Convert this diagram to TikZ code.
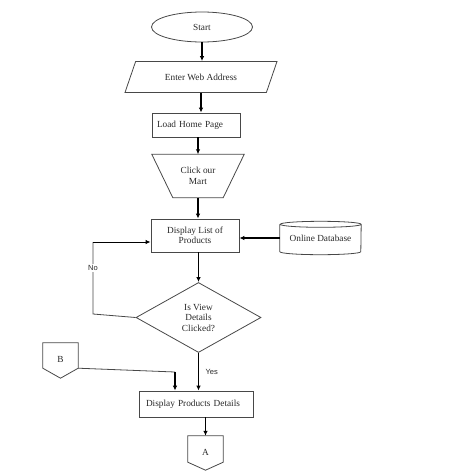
\documentclass[tikz,border=0pt]{standalone}
\usepackage{fontspec}
\setmainfont{Liberation Serif}
\newfontfamily\labelfont{Liberation Sans}
\usetikzlibrary{shapes.geometric,arrows.meta}

\definecolor{outline}{HTML}{484848}
\definecolor{ink}{HTML}{282828}

\tikzset{
  box/.style={draw=outline, line width=0.8pt, text=ink, font=\fontsize{9.3}{10.5}\selectfont},
  plain/.style={text=ink, font=\fontsize{9.3}{10.5}\selectfont},
  flow/.style={line width=1.4pt, black, -{Latex[length=5pt,width=4.5pt]}},
  thinline/.style={line width=0.8pt, outline},
  yesno/.style={text=ink, font=\labelfont\fontsize{7.5}{8}\selectfont}
}

\begin{document}
\begin{tikzpicture}[x=1pt,y=-1pt]
  \useasboundingbox (0,0) rectangle (474,474);
  % vormen
  \node (start) [box, ellipse, minimum width=101pt, minimum height=30pt, inner sep=0pt] at (202,27) {Start};
  \node (enter) [box, trapezium, trapezium left angle=39, trapezium right angle=141,
    trapezium stretches body, minimum width=152pt, minimum height=31pt, inner sep=1pt] at (201,77) {Enter Web Address};
  \node (load) [box, rectangle, minimum width=88pt, minimum height=24pt, text width=78pt, align=left, inner sep=4pt] at (196,125) {Load Home Page};
  \node (click) [plain, minimum width=92pt, minimum height=43pt, align=center, inner sep=1pt] at (198,176) {Click our\\Mart};
  \draw [thinline] (click.north west) -- (click.north east) -- ([xshift=-21pt]click.south east)
    -- ([xshift=21pt]click.south west) -- cycle;
  \node (list) [box, rectangle, minimum width=88pt, minimum height=33pt, align=center, inner sep=1pt] at (195,235.5) {Display List of\\Products};
  \node (db) [plain, minimum width=81pt, minimum height=33pt, inner sep=1pt] at (320.5,238) {Online Database};
  \draw [thinline] ([yshift=-3pt]db.north west) -- ([yshift=3pt]db.south west)
    arc [start angle=180, end angle=360, x radius=40.5pt, y radius=3pt]
    -- ([yshift=-3pt]db.north east)
    arc [start angle=0, end angle=360, x radius=40.5pt, y radius=3pt];
  \node (check) [box, diamond, minimum width=125pt, minimum height=70pt, align=center, inner sep=0pt] at (198.5,317.5) {Is View\\Details\\Clicked?};
  \node (detail) [box, rectangle, minimum width=114pt, minimum height=26pt, text width=100pt, align=left, inner sep=4pt] at (196,404) {Display Products Details};

  % tengipunktar
  \node (B) [plain, minimum width=35pt, minimum height=35pt, inner sep=0pt] at (60.5,360.5) {\raisebox{3pt}{B}};
  \draw [thinline] (B.north west) -- (B.north east) -- ([yshift=10pt]B.south east)
    -- (B.south) -- ([yshift=10pt]B.south west) -- cycle;
  \node (A) [plain, minimum width=35pt, minimum height=34pt, inner sep=0pt] at (205.5,453) {\raisebox{2pt}{A}};
  \draw [thinline] (A.north west) -- (A.north east) -- ([yshift=8pt]A.south east)
    -- (A.south) -- ([yshift=8pt]A.south west) -- cycle;

  % orvar
  \draw [flow] (start.south) -- (start.south |- enter.north);
  \draw [flow] (enter.south) -- (enter.south |- load.north);
  \draw [flow] (click.north |- load.south) -- (click.north);
  \draw [flow] (click.south) -- (click.south |- list.north);
  \draw [flow] (db.west) -- (db.west -| list.east);
  \draw [flow] (check.north |- list.south) -- (check.north);
  \draw [flow] (check.south) -- (check.south |- detail.north)
    node [yesno, midway, right=3pt] {Yes};
  \draw [flow] (A.north |- detail.south) -- (A.north);

  % nei lykkja
  \coordinate (noturn) at (93,314);
  \coordinate (noup) at (93,242);
  \draw [thinline] (check.west) -- (noturn)
    -- node [yesno, pos=0.64, fill=white, inner sep=1pt] {No} (noup);
  \draw [flow, line width=1pt] (noup) -- (noup -| list.west);

  % B lína
  \coordinate (bjoin) at (175,372);
  \draw [thinline] ([yshift=10pt]B.south east) -- (bjoin);
  \draw [flow] (bjoin) -- (bjoin |- detail.north);
\end{tikzpicture}
\end{document}
